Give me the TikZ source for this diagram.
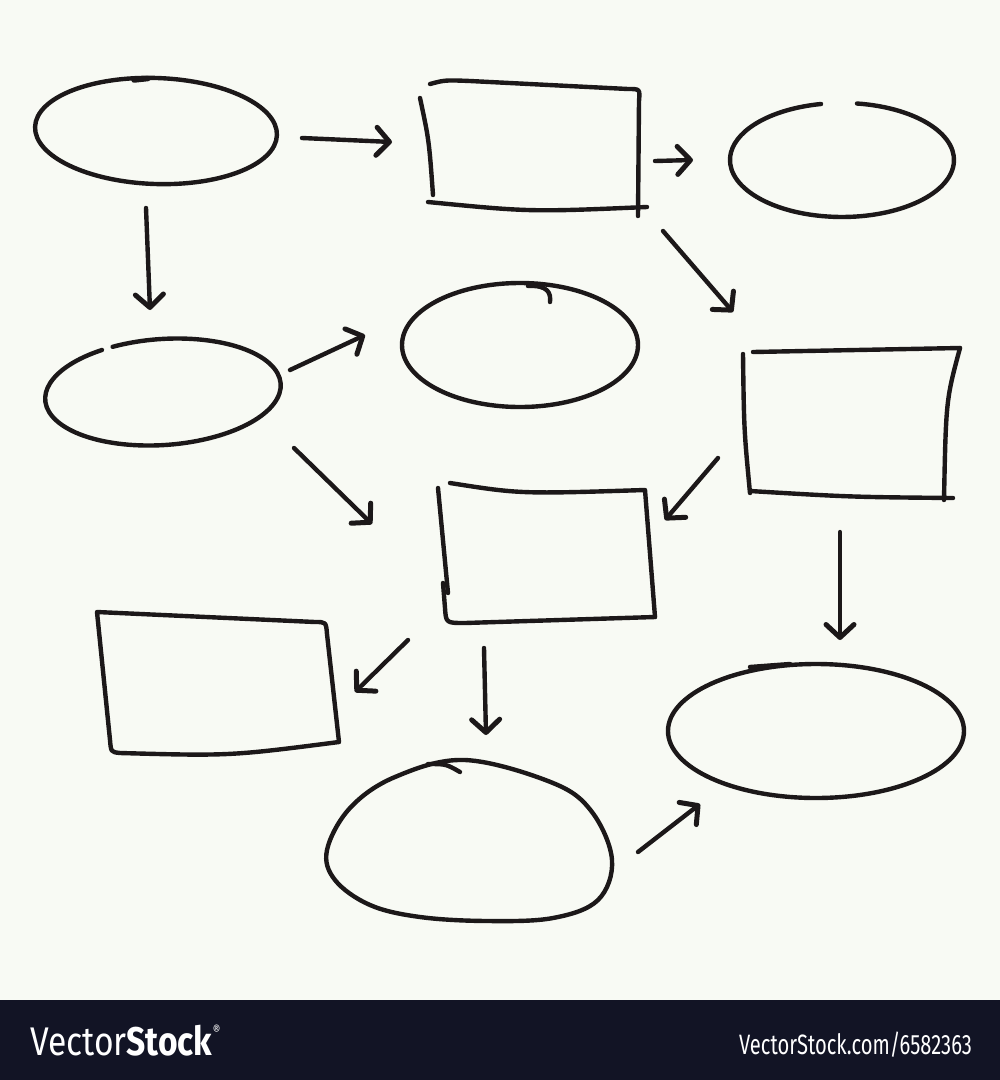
\documentclass[tikz,border=0pt]{standalone}
\usepackage{fontspec}
\newfontfamily\vsfont{Fira Sans}
\usetikzlibrary{arrows.meta}
\definecolor{bgcol}{HTML}{F8FAF4}
\definecolor{ink}{HTML}{1C1819}
\definecolor{bandcol}{HTML}{121425}
\tikzset{
  stroke/.style={draw=ink, line width=4.4pt, line cap=round, line join=round},
  conn/.style={stroke, -{Straight Barb[length=13pt, width=28pt, line width=5pt, round]}},
}
\begin{document}
\begin{tikzpicture}[x=1pt,y=-1pt]
\useasboundingbox (0,0) rectangle (1000,1080);
\fill[bgcol] (0,0) rectangle (1000,1000);
\fill[bandcol] (0,1000) rectangle (1000,1080);

% ---- shape anchors
\coordinate (A) at (156,131);
\coordinate (C) at (842,160);
\coordinate (D) at (163,392);
\coordinate (E) at (520,345);
\coordinate (I) at (816,731);

% ---- ellipse A
\draw[stroke, rotate around={-2:(A)}] (A) ellipse [x radius=121pt, y radius=53pt];
\draw[stroke, line width=5.5pt] (134,80) -- (148,78.5);

% ---- rectangle B
\draw[stroke] (430,84) .. controls (445,80) .. (470,81) -- (628,89) .. controls (640,89) .. (639,101) -- (638,216);
\draw[stroke] (420,98) .. controls (429,140) .. (433,195);
\draw[stroke] (428,202) .. controls (530,212) .. (647,207);

% ---- ellipse C (open at top)
\draw[stroke] (857,103.5) arc[start angle=82.3, end angle=-259.2, x radius=112pt, y radius=57pt];

% ---- ellipse D (small gap at top)
\begin{scope}[rotate around={4:(D)}]
\draw[stroke] (115.9,343.4) arc[start angle=113.5, end angle=-240.6, x radius=118pt, y radius=53pt];
\end{scope}

% ---- ellipse E with hook
\draw[stroke] (E) ellipse [x radius=118pt, y radius=62pt];
\draw[stroke] (528,286) .. controls (548,285) and (551,293) .. (550,302);

% ---- rectangle F
\draw[stroke] (753,352) -- (960,348);
\draw[stroke] (960,348) .. controls (946,400) .. (944,500);
\draw[stroke] (743,354) .. controls (744,430) .. (750,493);
\draw[stroke] (750,491) .. controls (850,497) .. (953,498);

% ---- rectangle G
\draw[stroke] (450,483) .. controls (520,494) .. (645,490) -- (655,617);
\draw[stroke] (438,488) -- (448,593);
\draw[stroke] (443,583) -- (445,608) .. controls (446,623) .. (465,623) -- (655,617);

% ---- rectangle H
\draw[stroke] (97,612) -- (315,622) .. controls (326,622) .. (327,634) -- (339,742)
  .. controls (230,756) .. (120,753) .. controls (111,752) .. (110,740) -- cycle;

% ---- ellipse I
\draw[stroke] (I) ellipse [x radius=148pt, y radius=67pt];
\draw[stroke] (750,667) -- (790,664);

% ---- dome J with hook
\draw[stroke] plot[smooth cycle, tension=0.6] coordinates {
  (465,760) (553,783) (592,812) (612,860) (598,900) (553,918) (487,921)
  (420,917) (370,905) (335,880) (327,850) (350,808) (395,777)};
\draw[stroke] (428,764) .. controls (446,764) .. (460,772);

% ---- connector ends
\coordinate (ab1) at (302,138); \coordinate (ab2) at (392,142);
\coordinate (bc1) at (655,161); \coordinate (bc2) at (693,160);
\coordinate (ad1) at (146,208); \coordinate (ad2) at (150,310);
\coordinate (bf1) at (663,231); \coordinate (bf2) at (733,312);
\coordinate (de1) at (290,370); \coordinate (de2) at (365,335);
\coordinate (dg1) at (294,448); \coordinate (dg2) at (372,524);
\coordinate (fg1) at (718,458); \coordinate (fg2) at (665,520);
\coordinate (fi1) at (840,532); \coordinate (fi2) at (840,640);
\coordinate (gh1) at (408,640); \coordinate (gh2) at (355,692);
\coordinate (gj1) at (484,648); \coordinate (gj2) at (486,735);
\coordinate (ji1) at (638,852); \coordinate (ji2) at (700,804);

\draw[conn] (ab1) -- (ab2);
\draw[conn] (bc1) -- (bc2);
\draw[conn] (ad1) -- (ad2);
\draw[conn] (bf1) -- (bf2);
\draw[conn] (de1) -- (de2);
\draw[conn] (dg1) -- (dg2);
\draw[conn] (fg1) -- (fg2);
\draw[conn] (fi1) -- (fi2);
\draw[conn] (gh1) -- (gh2);
\draw[conn] (gj1) -- (gj2);
\draw[conn] (ji1) -- (ji2);

% ---- watermark band text
\node[anchor=west, inner sep=0pt, text=white, xscale=0.84] (logo) at (30,1041)
  {\vsfont\fontsize{40}{40}\selectfont Vector\textbf{Stock}\raisebox{0.5em}{\fontsize{14}{14}\selectfont ®}};
\node[anchor=east, inner sep=0pt, text=white, xscale=0.72] (url) at (972,1045)
  {\vsfont\fontsize{28}{28}\selectfont VectorStock.com/6582363};
\end{tikzpicture}
\end{document}
